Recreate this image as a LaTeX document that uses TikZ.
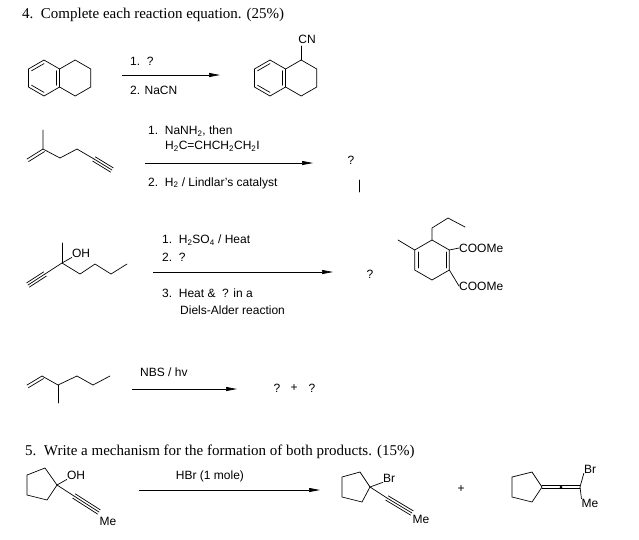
\documentclass[tikz,border=0pt]{standalone}
\usepackage{fontspec}
\setmainfont{Liberation Serif}
\setsansfont{Liberation Sans}
\usetikzlibrary{calc,arrows.meta}
\newcommand\hexat[3]{\foreach \k in {0,...,5}{\coordinate (#1-\k) at ($(#2)+(90+60*\k:#3)$);}
  \draw[bond] (#1-0)--(#1-1)--(#1-2)--(#1-3)--(#1-4)--(#1-5)--cycle;}
\newcommand\inner[3]{\draw[bond] ($(#1)!0.2!(#3)$)--($(#2)!0.2!(#3)$);}
\newcommand\dbl[3]{\draw[bond] (#1)--(#2); \draw[bond] ($(#1)!3pt!#3:(#2)$)--($(#2)!3pt!-#3:(#1)$);}
\newcommand\trip[2]{\draw[bond] (#1)--(#2); \draw[bond] ($(#1)!2.5pt!90:(#2)$)--($(#2)!2.5pt!-90:(#1)$);
  \draw[bond] ($(#1)!2.5pt!-90:(#2)$)--($(#2)!2.5pt!90:(#1)$);}
\begin{document}
\begin{tikzpicture}[x=1pt,y=-1pt,
  bond/.style={line width=0.7pt,line cap=round},
  rx/.style={line width=0.7pt,-{Triangle[length=11pt,width=4pt]}},
  lab/.style={font=\sffamily\fontsize{12}{14}\selectfont,inner sep=0pt},
  lbl/.style={lab,anchor=west},
  ttl/.style={font=\rmfamily\fontsize{15}{17}\selectfont,anchor=west,inner sep=0pt}]
\useasboundingbox (0,0) rectangle (639,539);
\node[ttl] (t4) at (22,15) {4.\ \ Complete each reaction equation. (25\%)};
% ---- reaction 1
\coordinate (Lc1) at (44,78); \coordinate (Lc2) at (75.18,78);
\hexat{La}{Lc1}{18} \hexat{Lb}{Lc2}{18}
\inner{La-2}{La-3}{Lc1} \inner{La-4}{La-5}{Lc1} \inner{La-0}{La-1}{Lc1}
\node[lbl] (r1a) at (130,61) {1.\ \ ?};
\node[lbl] (r1b) at (130,90) {2. NaCN};
\coordinate (a1s) at (122,75); \coordinate (a1e) at (220,75);
\draw[rx] (a1s)--(a1e);
\coordinate (Pc1) at (270,78); \coordinate (Pc2) at (301.18,78);
\hexat{Pa}{Pc1}{18} \hexat{Pb}{Pc2}{18}
\inner{Pa-2}{Pa-3}{Pc1} \inner{Pa-4}{Pa-5}{Pc1} \inner{Pa-0}{Pa-1}{Pc1}
\node[lab] (cn) at (307,39) {CN};
\coordinate (cnb) at (301.18,46);
\draw[bond] (Pb-3)--(cnb);
% ---- reaction 2
\coordinate (b1) at (43,130); \coordinate (b2) at (43,149); \coordinate (b3) at (27,159);
\coordinate (b4) at (60,158); \coordinate (b5) at (77,149); \coordinate (b6) at (94,159); \coordinate (b7) at (112,170);
\draw[bond] (b1)--(b2)--(b4)--(b5)--(b6);
\dbl{b2}{b3}{90}
\trip{b6}{b7}
\node[lbl] (r2a) at (148,131) {1.\ \ NaNH\textsubscript{2}, then};
\node[lbl] (r2b) at (165,146) {H\textsubscript{2}C=CHCH\textsubscript{2}CH\textsubscript{2}I};
\node[lbl] (r2c) at (148,183) {2.\ \ H\textsubscript{2} / Lindlar's catalyst};
\coordinate (a2s) at (145,163); \coordinate (a2e) at (313,163);
\draw[rx] (a2s)--(a2e);
\node[lab] (q2) at (351,160) {?};
\coordinate (v1) at (359,180); \coordinate (v2) at (359,192);
\draw[bond] (v1)--(v2);
% ---- reaction 3
\coordinate (c1) at (28,285); \coordinate (c2) at (45,274); \coordinate (c3) at (62,263);
\coordinate (c4) at (62,243); \coordinate (c5) at (80,274); \coordinate (c6) at (95,264);
\coordinate (c7) at (111,274); \coordinate (c8) at (127,264);
\trip{c1}{c2}
\draw[bond] (c2)--(c3)--(c5)--(c6)--(c7)--(c8); \draw[bond] (c3)--(c4);
\node[lab] (oh1) at (81,253) {OH};
\draw[bond] (c3)--(oh1.south west);
\node[lbl] (r3a) at (162,240) {1.\ \ H\textsubscript{2}SO\textsubscript{4} / Heat};
\node[lbl] (r3b) at (162,257) {2.\ \ ?};
\node[lbl] (r3c) at (162,293) {3.\ \ Heat \&\ \ ? in a};
\node[lbl] (r3d) at (180,310) {Diels-Alder reaction};
\coordinate (a3s) at (153,272); \coordinate (a3e) at (333,272);
\draw[rx] (a3s)--(a3e);
\node[lab] (q3) at (370,274) {?};
\coordinate (Dc) at (432,260);
\hexat{D}{Dc}{20}
\inner{D-4}{D-5}{Dc} \inner{D-1}{D-2}{Dc}
\coordinate (p1) at (432,228); \coordinate (p2) at (448,218); \coordinate (p3) at (465,227);
\draw[bond] (D-3)--(p1)--(p2)--(p3);
\coordinate (dm) at (398,240); \draw[bond] (D-2)--(dm);
\node[lbl] (e1) at (459,248) {COOMe};
\node[lbl] (e2) at (459,286) {COOMe};
\draw[bond] (D-4)--(e1.west); \draw[bond] (D-5)--(e2.west);
% ---- reaction 4
\coordinate (d1) at (27,385); \coordinate (d2) at (42,376); \coordinate (d3) at (58,385);
\coordinate (d4) at (58,403); \coordinate (d5) at (77,376); \coordinate (d6) at (93,385); \coordinate (d7) at (110,376);
\dbl{d1}{d2}{-90}
\draw[bond] (d2)--(d3)--(d5)--(d6)--(d7); \draw[bond] (d3)--(d4);
\node[lbl] (r4a) at (140,372) {NBS / hv};
\coordinate (a4s) at (132,389); \coordinate (a4e) at (237,389);
\draw[rx] (a4s)--(a4e);
\node[lab] (q4a) at (277,388) {?}; \node[lab] (pl4) at (294,388) {+}; \node[lab] (q4b) at (312,388) {?};
% ---- question 5
\node[ttl] (t5) at (25,452) {5.\ \ Write a mechanism for the formation of both products. (15\%)};
\coordinate (f1) at (45,468); \coordinate (f2) at (57,485); \coordinate (f3) at (47,500);
\coordinate (f4) at (27,495); \coordinate (f5) at (27,475);
\draw[bond] (f1)--(f2)--(f3)--(f4)--(f5)--cycle;
\node[lab] (oh5) at (76,475) {OH};
\draw[bond] (f2)--(oh5.south west);
\coordinate (f6) at (74,496); \coordinate (f7) at (99,512);
\draw[bond] (f2)--(f6); \trip{f6}{f7};
\node[lab] (me1) at (108,521) {Me};
\node[lab] (hbr) at (210,476) {HBr (1 mole)};
\coordinate (a5s) at (139,490); \coordinate (a5e) at (320,490);
\draw[rx] (a5s)--(a5e);
\coordinate (g1) at (360,472); \coordinate (g2) at (370,487); \coordinate (g3) at (362,502);
\coordinate (g4) at (342,497); \coordinate (g5) at (342,477);
\draw[bond] (g1)--(g2)--(g3)--(g4)--(g5)--cycle;
\node[lab] (br1) at (389,478) {Br};
\draw[bond] (g2)--(br1.south west);
\coordinate (g6) at (387,498); \coordinate (g7) at (412,513);
\draw[bond] (g2)--(g6); \trip{g6}{g7};
\node[lab] (me2) at (421,519) {Me};
\node[lab] (pl5) at (461,489) {+};
\coordinate (h1) at (532,472); \coordinate (h2) at (542,487); \coordinate (h3) at (532,502);
\coordinate (h4) at (512,497); \coordinate (h5) at (512,477);
\draw[bond] (h1)--(h2)--(h3)--(h4)--(h5)--cycle;
\coordinate (h6) at (561,487); \coordinate (h7) at (580,487);
\draw[bond] ($(h2)+(0,-1.6)$)--($(h7)+(0,-1.6)$);
\draw[bond] ($(h2)+(0,1.6)$)--($(h7)+(0,1.6)$);
\fill (h6) circle (1.5);
\node[lab] (br2) at (590,469) {Br};
\node[lab] (me3) at (590,503) {Me};
\draw[bond] (h7)--(br2.south west); \draw[bond] (h7)--(me3.north west);
\end{tikzpicture}
\end{document}
